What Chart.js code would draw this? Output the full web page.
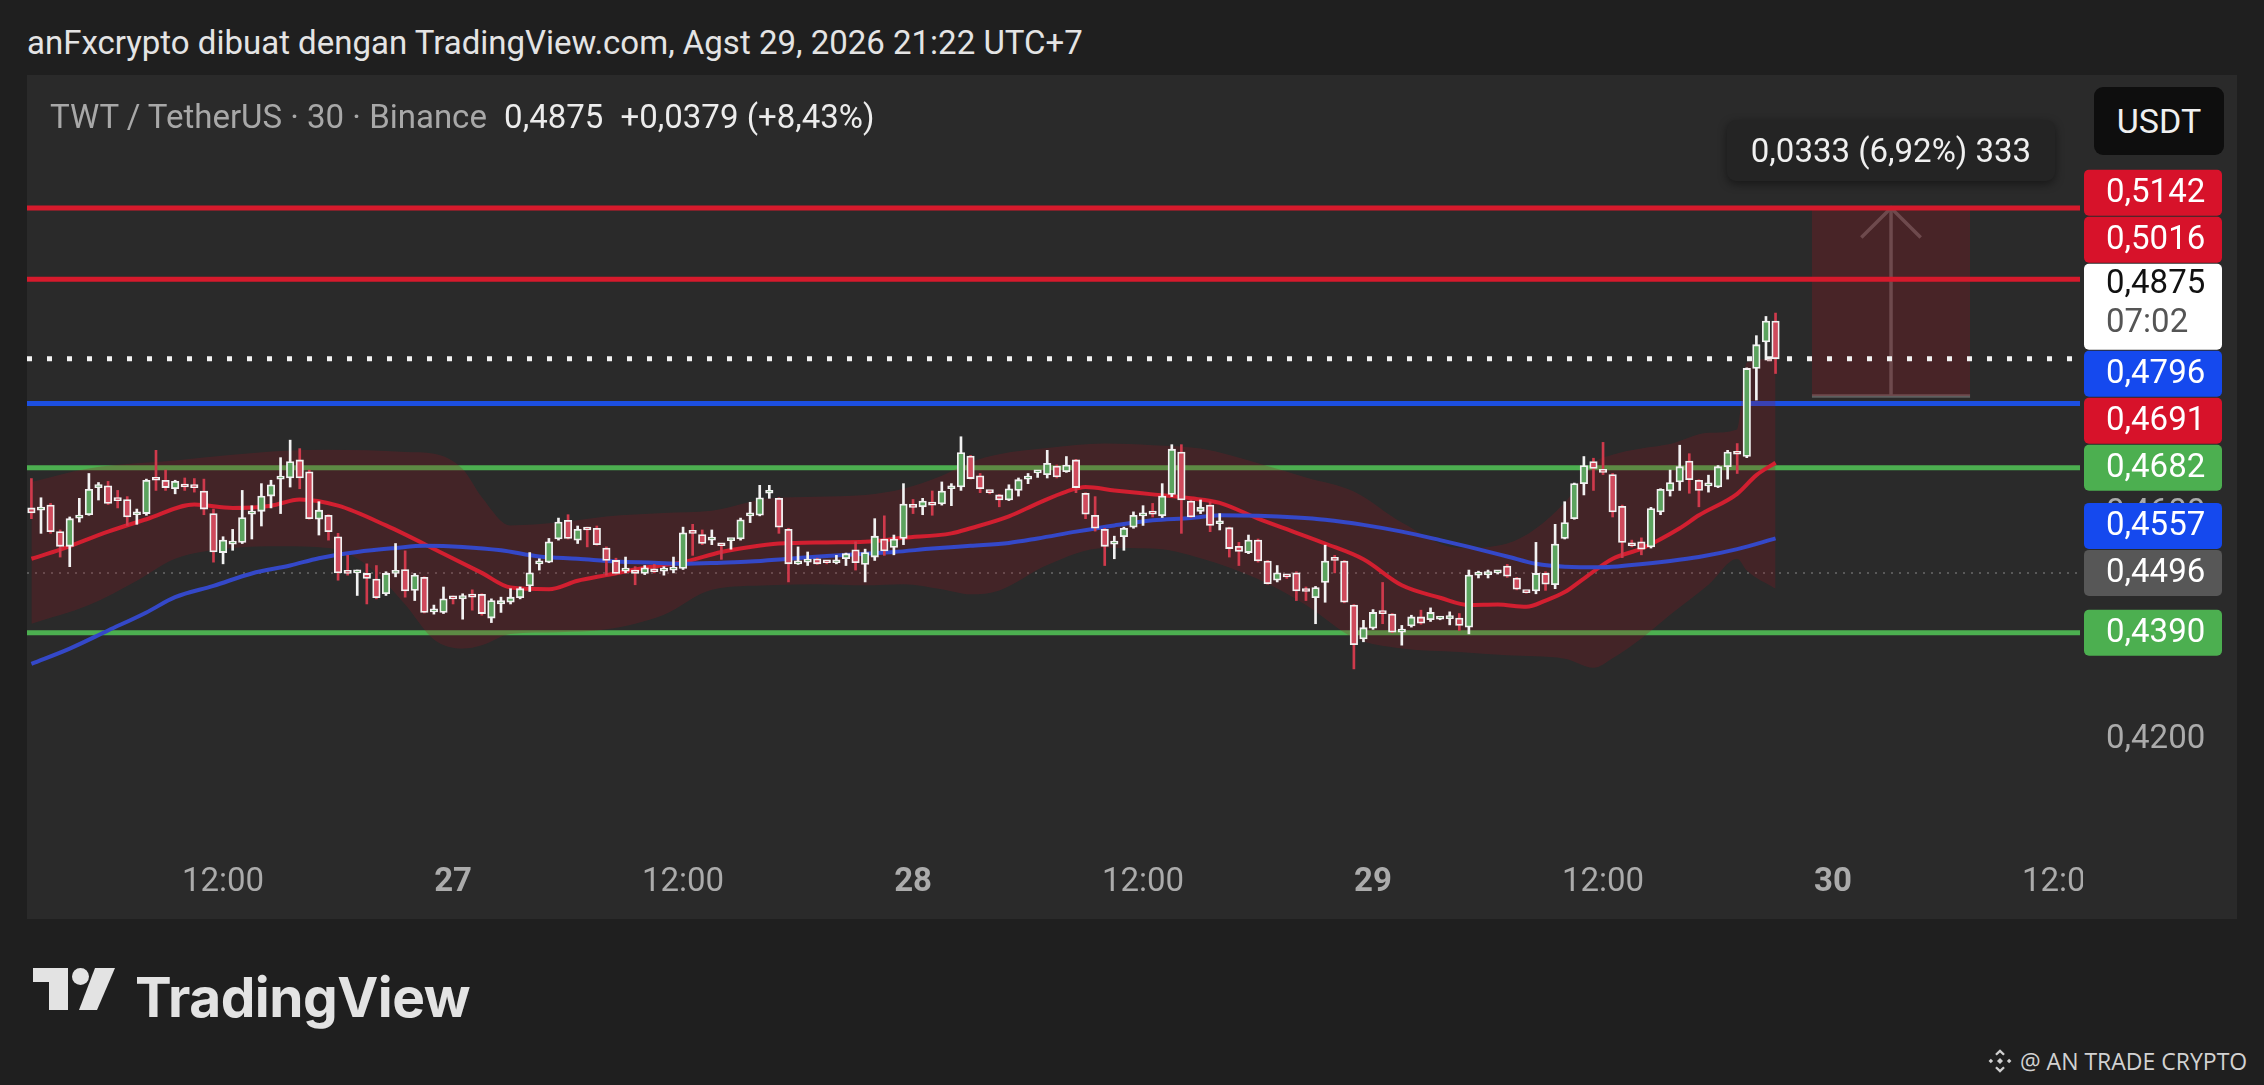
<!DOCTYPE html>
<html>
<head>
<meta charset="utf-8">
<script src="https://cdn.jsdelivr.net/npm/chart.js@4.4.1/dist/chart.umd.min.js"></script>
<style>
  html, body { margin:0; padding:0; background:#1f1f1f; width:2264px; height:1085px; overflow:hidden; font-family: Roboto, "Noto Sans", sans-serif; }
  #title { position:absolute; left:27px; top:24px; font-size:33px; line-height:38px; color:#e4e4e4; white-space:nowrap; }
  #panel { position:absolute; left:27px; top:75px; width:2210px; height:844px; background:#2a2a2a; }
  #chart { position:absolute; left:0; top:0; }
  #legend { position:absolute; left:23px; top:23px; font-size:33px; line-height:38px; color:#a8a8a8; white-space:nowrap; }
  #legend span { color:#ececec; margin-left:9px; }
  #usdt { position:absolute; left:2067px; top:12px; width:130px; height:68px; background:#0e0e0e; border-radius:9px; color:#f0f0f0; font-size:34px; line-height:68px; text-align:center; }
  #measure { position:absolute; left:1700px; top:45px; width:328px; height:61px; background:#242424; border-radius:9px; box-shadow:0 3px 10px rgba(0,0,0,0.45); color:#f0f0f0; font-size:33px; line-height:61px; text-align:center; }
  #logo { position:absolute; left:33px; top:968px; height:70px; display:flex; align-items:flex-start; }
  #logo .word { margin-left:20px; margin-top:-1px; font-family: Inter, Lato, sans-serif; font-weight:700; font-size:55px; line-height:60px; color:#e3e3e3; letter-spacing:-0.5px; }
  #mark { position:absolute; left:1986px; top:1045px; display:flex; align-items:center; color:#d2d2d2; font-family:"Open Sans", "Noto Sans", sans-serif; font-size:23px; white-space:nowrap; }
  #mark svg { margin-right:6px; }
</style>
</head>
<body>
<div id="title">anFxcrypto dibuat dengan TradingView.com, Agst 29, 2026 21:22 UTC+7</div>
<div id="panel">
  <canvas id="chart" width="2210" height="844"></canvas>
  <div id="legend">TWT / TetherUS · 30 · Binance <span>0,4875</span> <span>+0,0379 (+8,43%)</span></div>
  <div id="usdt">USDT</div>
  <div id="measure">0,0333 (6,92%) 333</div>
</div>
<div id="logo">
  <svg width="82" height="42" viewBox="0 0 82 42"><g fill="#e3e3e3">
    <path d="M0 0 H35 V42 H16 V14 H0 Z"/>
    <circle cx="47.5" cy="8.5" r="8.5"/>
    <path d="M62 0 H82 L64 42 H46 Z"/>
  </g></svg>
  <div class="word">TradingView</div>
</div>
<div id="mark">
  <svg width="28" height="28" viewBox="0 0 26 26"><g fill="#cfcfcf">
    <path d="M13 2 L17.5 6.5 L16 8 L13 5 L10 8 L8.5 6.5 Z"/>
    <path d="M13 24 L8.5 19.5 L10 18 L13 21 L16 18 L17.5 19.5 Z"/>
    <rect x="11" y="11" width="4" height="4" transform="rotate(45 13 13)"/>
    <rect x="3" y="11.5" width="3" height="3" transform="rotate(45 4.5 13)"/>
    <rect x="20" y="11.5" width="3" height="3" transform="rotate(45 21.5 13)"/>
  </g></svg>
  <span>@ AN TRADE CRYPTO</span>
</div>
<script>
////////////
//// Data (30 min bars, 26 Aug 02:00 -> 29 Aug 21:00)

let OPEN = [
0.4611,0.4607,0.4616,0.4569,0.4543,0.4593,0.4599,0.4647,0.4650,0.4625,0.4626,0.4599,0.4601,0.4663,0.4660,0.4645,0.4649,0.4648,0.4641,0.4601,
0.4532,0.4547,0.4550,0.4600,0.4605,0.4632,0.4662,0.4664,0.4696,0.4675,0.4591,0.4598,0.4560,0.4498,0.4496,0.4495,0.4485,0.4459,0.4495,0.4502,
0.4465,0.4488,0.4427,0.4426,0.4451,0.4450,0.4455,0.4458,0.4416,0.4441,0.4444,0.4452,0.4473,0.4512,0.4515,0.4556,0.4589,0.4554,0.4573,0.4575,
0.4540,0.4518,0.4499,0.4501,0.4495,0.4502,0.4499,0.4501,0.4504,0.4569,0.4564,0.4554,0.4546,0.4553,0.4556,0.4597,0.4598,0.4637,0.4628,0.4573,
0.4512,0.4515,0.4521,0.4515,0.4514,0.4521,0.4537,0.4511,0.4524,0.4556,0.4541,0.4557,0.4613,0.4613,0.4618,0.4618,0.4645,0.4648,0.4703,0.4668,
0.4640,0.4634,0.4625,0.4642,0.4662,0.4673,0.4670,0.4685,0.4675,0.4696,0.4637,0.4598,0.4573,0.4547,0.4560,0.4577,0.4597,0.4602,0.4597,0.4635,
0.4710,0.4623,0.4605,0.4616,0.4583,0.4576,0.4543,0.4532,0.4554,0.4517,0.4483,0.4490,0.4496,0.4465,0.4452,0.4479,0.4519,0.4517,0.4439,0.4379,
0.4398,0.4426,0.4423,0.4391,0.4402,0.4418,0.4413,0.4414,0.4415,0.4416,0.4400,0.4492,0.4493,0.4496,0.4508,0.4487,0.4463,0.4464,0.4495,0.4475,
0.4557,0.4592,0.4654,0.4693,0.4676,0.4670,0.4614,0.4546,0.4551,0.4542,0.4604,0.4641,0.4657,0.4694,0.4660,0.4650,0.4648,0.4684,0.4707,0.4702,
0.4858,0.4905,0.4942];
let HIGH = [
0.4663,0.4629,0.4619,0.4572,0.4595,0.4628,0.4672,0.4656,0.4658,0.4642,0.4631,0.4609,0.4662,0.4713,0.4678,0.4660,0.4664,0.4663,0.4662,0.4609,
0.4560,0.4573,0.4642,0.4615,0.4654,0.4660,0.4700,0.4731,0.4716,0.4678,0.4622,0.4599,0.4566,0.4527,0.4501,0.4512,0.4509,0.4498,0.4548,0.4535,
0.4495,0.4489,0.4439,0.4471,0.4455,0.4459,0.4466,0.4459,0.4450,0.4453,0.4468,0.4471,0.4532,0.4521,0.4557,0.4593,0.4599,0.4579,0.4577,0.4579,
0.4542,0.4522,0.4524,0.4507,0.4509,0.4511,0.4507,0.4524,0.4577,0.4582,0.4572,0.4572,0.4547,0.4556,0.4593,0.4621,0.4651,0.4651,0.4629,0.4575,
0.4542,0.4533,0.4522,0.4517,0.4527,0.4531,0.4551,0.4538,0.4592,0.4597,0.4563,0.4654,0.4626,0.4628,0.4641,0.4657,0.4654,0.4737,0.4704,0.4672,
0.4642,0.4635,0.4652,0.4664,0.4672,0.4675,0.4713,0.4687,0.4702,0.4697,0.4638,0.4631,0.4575,0.4561,0.4577,0.4604,0.4615,0.4619,0.4654,0.4723,
0.4723,0.4625,0.4625,0.4622,0.4601,0.4577,0.4550,0.4563,0.4556,0.4518,0.4509,0.4492,0.4498,0.4471,0.4472,0.4545,0.4527,0.4518,0.4440,0.4412,
0.4431,0.4479,0.4424,0.4403,0.4421,0.4430,0.4434,0.4417,0.4427,0.4424,0.4501,0.4499,0.4501,0.4499,0.4511,0.4488,0.4464,0.4550,0.4498,0.4582,
0.4622,0.4655,0.4702,0.4699,0.4727,0.4672,0.4616,0.4554,0.4558,0.4612,0.4645,0.4678,0.4722,0.4707,0.4661,0.4669,0.4686,0.4713,0.4725,0.4859,
0.4916,0.4950,0.4956];
let LOW = [
0.4592,0.4566,0.4566,0.4524,0.4507,0.4586,0.4598,0.4625,0.4617,0.4611,0.4580,0.4582,0.4598,0.4642,0.4642,0.4636,0.4642,0.4639,0.4599,0.4515,
0.4512,0.4536,0.4548,0.4556,0.4579,0.4611,0.4601,0.4648,0.4645,0.4591,0.4563,0.4554,0.4483,0.4492,0.4456,0.4441,0.4450,0.4456,0.4489,0.4453,
0.4447,0.4425,0.4423,0.4424,0.4441,0.4414,0.4430,0.4421,0.4408,0.4426,0.4441,0.4450,0.4463,0.4501,0.4514,0.4554,0.4556,0.4548,0.4542,0.4545,
0.4492,0.4493,0.4496,0.4475,0.4493,0.4496,0.4492,0.4496,0.4502,0.4527,0.4546,0.4546,0.4520,0.4538,0.4554,0.4585,0.4597,0.4628,0.4566,0.4480,
0.4511,0.4509,0.4511,0.4512,0.4512,0.4509,0.4501,0.4480,0.4518,0.4527,0.4528,0.4546,0.4601,0.4599,0.4598,0.4616,0.4615,0.4642,0.4662,0.4638,
0.4636,0.4613,0.4624,0.4632,0.4654,0.4665,0.4664,0.4664,0.4674,0.4638,0.4592,0.4570,0.4509,0.4521,0.4536,0.4575,0.4580,0.4595,0.4594,0.4631,
0.4566,0.4594,0.4601,0.4569,0.4572,0.4524,0.4509,0.4530,0.4515,0.4476,0.4480,0.4486,0.4447,0.4447,0.4406,0.4444,0.4496,0.4443,0.4326,0.4374,
0.4396,0.4406,0.4390,0.4368,0.4400,0.4405,0.4410,0.4413,0.4404,0.4394,0.4388,0.4487,0.4487,0.4494,0.4488,0.4466,0.4460,0.4459,0.4465,0.4468,
0.4556,0.4591,0.4634,0.4642,0.4670,0.4595,0.4523,0.4542,0.4528,0.4540,0.4599,0.4632,0.4642,0.4637,0.4613,0.4639,0.4647,0.4662,0.4672,0.4700,
0.4802,0.4873,0.4849];
let CLOSE = [
0.4602,0.4611,0.4569,0.4543,0.4592,0.4595,0.4644,0.4649,0.4619,0.4624,0.4595,0.4600,0.4660,0.4660,0.4647,0.4658,0.4648,0.4647,0.4609,0.4533,
0.4554,0.4552,0.4594,0.4602,0.4632,0.4652,0.4664,0.4693,0.4664,0.4592,0.4607,0.4569,0.4496,0.4495,0.4498,0.4486,0.4452,0.4495,0.4499,0.4464,
0.4492,0.4426,0.4428,0.4450,0.4450,0.4456,0.4453,0.4424,0.4447,0.4447,0.4453,0.4468,0.4496,0.4515,0.4551,0.4586,0.4557,0.4573,0.4572,0.4546,
0.4518,0.4495,0.4501,0.4495,0.4505,0.4498,0.4501,0.4502,0.4567,0.4566,0.4548,0.4556,0.4544,0.4554,0.4590,0.4599,0.4629,0.4639,0.4577,0.4512,
0.4517,0.4516,0.4512,0.4514,0.4519,0.4530,0.4514,0.4532,0.4561,0.4535,0.4556,0.4618,0.4612,0.4623,0.4616,0.4641,0.4648,0.4709,0.4663,0.4645,
0.4638,0.4625,0.4645,0.4661,0.4664,0.4674,0.4690,0.4666,0.4687,0.4647,0.4600,0.4575,0.4543,0.4549,0.4575,0.4598,0.4600,0.4600,0.4632,0.4715,
0.4625,0.4595,0.4612,0.4580,0.4584,0.4539,0.4534,0.4554,0.4517,0.4477,0.4496,0.4489,0.4464,0.4463,0.4470,0.4517,0.4518,0.4444,0.4369,0.4399,
0.4426,0.4424,0.4391,0.4394,0.4418,0.4407,0.4426,0.4415,0.4417,0.4403,0.4492,0.4494,0.4495,0.4497,0.4490,0.4467,0.4461,0.4495,0.4476,0.4547,
0.4585,0.4654,0.4686,0.4681,0.4674,0.4604,0.4550,0.4544,0.4538,0.4610,0.4644,0.4656,0.4684,0.4661,0.4642,0.4653,0.4684,0.4710,0.4706,0.4858,
0.4900,0.4942,0.4875];

// red average at these bar numbers
let RED_X = [0,3,8,12,17,21,25,28,32,37,43,47,50,54,57,60,64,68,72,75,78,83,87,91,96,98,102,105,108,110,113,117,121,124,128,132,135,139,143,147,150,153,156,158,160,162,165,168,172,174,178,180,182];
let RED_Y = [0.4521,0.4537,0.4569,0.4591,0.4617,0.4611,0.4615,0.4626,0.4615,0.4580,0.4530,0.4496,0.4470,0.4467,0.4482,0.4492,0.4505,0.4515,0.4533,0.4542,0.4548,0.4550,0.4551,0.4558,0.4566,0.4575,0.4596,0.4619,0.4640,0.4648,0.4642,0.4635,0.4628,0.4620,0.4592,0.4567,0.4548,0.4520,0.4474,0.4452,0.4439,0.4440,0.4436,0.4447,0.4462,0.4486,0.4521,0.4539,0.4575,0.4598,0.4636,0.4669,0.4691];
// blue average
let BLUE_X = [0,4,8,12,15,19,23,27,30,34,38,41,45,49,53,57,61,65,68,72,75,79,83,87,90,94,98,102,105,109,113,117,121,124,128,132,135,139,143,147,150,154,157,160,164,167,171,174,178,182];
let BLUE_Y = [0.4335,0.4362,0.4394,0.4426,0.4453,0.4473,0.4495,0.4509,0.4522,0.4533,0.4540,0.4544,0.4542,0.4536,0.4525,0.4521,0.4516,0.4514,0.4512,0.4514,0.4516,0.4521,0.4526,0.4530,0.4533,0.4539,0.4544,0.4549,0.4557,0.4569,0.4580,0.4589,0.4593,0.4598,0.4597,0.4594,0.4590,0.4581,0.4569,0.4554,0.4542,0.4525,0.4512,0.4507,0.4506,0.4510,0.4517,0.4524,0.4538,0.4557];
// shaded band, upper and lower edge
let BAND_X = [0,6,11,15,21,26,31,35,39,42,45,47,50,55,60,66,71,77,82,87,91,95,98,101,106,112,117,122,128,133,138,143,149,154,160,163,165,168,171,175,178,179,182];
let BAND_UP = [0.4657,0.4681,0.4690,0.4695,0.4705,0.4712,0.4714,0.4713,0.4710,0.4707,0.4680,0.4630,0.4580,0.4585,0.4596,0.4602,0.4606,0.4628,0.4631,0.4634,0.4645,0.4668,0.4692,0.4706,0.4717,0.4725,0.4722,0.4716,0.4690,0.4665,0.4640,0.4585,0.4540,0.4548,0.4620,0.4690,0.4705,0.4716,0.4724,0.4744,0.4750,0.4868,0.4875];
let BAND_LOW = [0.4406,0.4439,0.4482,0.4521,0.4540,0.4543,0.4540,0.4510,0.4440,0.4378,0.4362,0.4368,0.4388,0.4391,0.4396,0.4422,0.4466,0.4474,0.4476,0.4474,0.4476,0.4467,0.4458,0.4465,0.4510,0.4540,0.4539,0.4522,0.4485,0.4439,0.4381,0.4362,0.4356,0.4350,0.4344,0.4328,0.4345,0.4380,0.4422,0.4475,0.4521,0.4500,0.4468];

// drawn levels
let LEVEL_RED = [0.5142, 0.5016];
let LEVEL_BLUE = [0.4796];
let LEVEL_GREEN = [0.4682, 0.4390];
let LAST_PRICE = 0.4875;
let PREV_CLOSE = 0.4496;

// price range tool
let MEASURE_X = [185.8, 202.3];
let MEASURE_Y = [0.4809, 0.5142];

// price scale tags
let TAG_PRICES = [0.5142, 0.5016, 0.4875, 0.4796, 0.4691, 0.4682, 0.4557, 0.4496, 0.4390];
let TAG_TEXT   = ['0,5142','0,5016','0,4875','0,4796','0,4691','0,4682','0,4557','0,4496','0,4390'];
let TAG_SUB    = ['', '', '07:02', '', '', '', '', '', ''];
let TAG_BG     = ['#d7122a','#d7122a','#ffffff','#1549ee','#d7122a','#4caf50','#1549ee','#575757','#4caf50'];
let TAG_FG     = ['#ffffff','#ffffff','#111111','#ffffff','#ffffff','#ffffff','#ffffff','#ffffff','#ffffff'];

// scale labels left uncovered by the tags
let Y_TICKS = [0.42, 0.44, 0.46, 0.50];
let TICK_POS = [20, 44, 68, 92, 116, 140, 164, 188, 212];
let TICK_LABELS = ['12:00','27','12:00','28','12:00','29','12:00','30','12:00'];

let X_MIN = -0.46, X_MAX = 213.77;
let Y_MIN = 0.40089, Y_MAX = 0.53775;

let GREEN = '#5ba35e';
let RED = '#cf4a5c';
let PANEL = '#2a2a2a';

////////////
//// Datasets

Chart.defaults.font.family = 'Roboto';

function hline(p, color, width, dash, order) {
	return {
		type: 'line',
		data: [{x: X_MIN, y: p}, {x: X_MAX, y: p}],
		borderColor: color,
		borderWidth: width,
		borderDash: dash,
		pointRadius: 0,
		order: order
	};
}

function pts(xs, ys) {
	return xs.map((x, k) => ({x: x, y: ys[k]}));
}

let isUp = OPEN.map((o, i) => CLOSE[i] >= o);

let datasets = [];

// price range rectangle (fill to next dataset)
datasets.push({
	type: 'line',
	data: [{x: MEASURE_X[0], y: MEASURE_Y[1]}, {x: MEASURE_X[1], y: MEASURE_Y[1]}],
	borderColor: '#5e5e5e', borderWidth: 3.5, pointRadius: 0,
	fill: '+1', backgroundColor: 'rgba(160,20,30,0.26)', order: 12
});
datasets.push({
	type: 'line',
	data: [{x: MEASURE_X[0], y: MEASURE_Y[0]}, {x: MEASURE_X[1], y: MEASURE_Y[0]}],
	borderColor: '#5e5e5e', borderWidth: 3.5, pointRadius: 0, order: 12
});
let midX = (MEASURE_X[0] + MEASURE_X[1]) / 2;
datasets.push({
	type: 'line',
	data: [{x: midX, y: MEASURE_Y[0]}, {x: midX, y: MEASURE_Y[1]}],
	borderColor: '#5e5e5e', borderWidth: 3.5, pointRadius: 0, order: 12
});
datasets.push({
	type: 'line',
	data: [{x: midX - 3.1, y: MEASURE_Y[1] - 0.0052}, {x: midX, y: MEASURE_Y[1]}, {x: midX + 3.1, y: MEASURE_Y[1] - 0.0052}],
	borderColor: '#5e5e5e', borderWidth: 3.5, pointRadius: 0, order: 12
});

// horizontal levels
LEVEL_RED.forEach(p => datasets.push(hline(p, '#d61a2c', 5, [], 10)));
LEVEL_BLUE.forEach(p => datasets.push(hline(p, '#1c4fe0', 5, [], 10)));
LEVEL_GREEN.forEach(p => datasets.push(hline(p, '#4caf50', 5, [], 10)));
datasets.push(hline(PREV_CLOSE, '#6a6a6a', 1.5, [2, 6], 10));
datasets.push(hline(LAST_PRICE, '#f2f2f2', 5, [5, 15], 10));

// band
datasets.push({
	type: 'line', data: pts(BAND_X, BAND_UP),
	borderWidth: 0, pointRadius: 0, cubicInterpolationMode: 'monotone',
	fill: '+1', backgroundColor: 'rgba(150,22,32,0.24)', order: 8
});
datasets.push({
	type: 'line', data: pts(BAND_X, BAND_LOW),
	borderWidth: 0, pointRadius: 0, cubicInterpolationMode: 'monotone', order: 8
});

// averages
datasets.push({
	type: 'line', data: pts(BLUE_X, BLUE_Y),
	borderColor: '#3448c8', borderWidth: 4, pointRadius: 0, cubicInterpolationMode: 'monotone', order: 5
});
datasets.push({
	type: 'line', data: pts(RED_X, RED_Y),
	borderColor: '#d21f30', borderWidth: 4, pointRadius: 0, cubicInterpolationMode: 'monotone', order: 5
});

// candles: wicks then bodies
datasets.push({
	type: 'bar',
	data: HIGH.map((h, i) => ({x: i, y: [LOW[i], h]})),
	backgroundColor: isUp.map(u => u ? '#f2f2f2' : '#cf3a4c'),
	borderWidth: 0, barThickness: 2, grouped: false, order: 2
});
datasets.push({
	type: 'bar',
	data: OPEN.map((o, i) => ({x: i, y: [o, CLOSE[i]]})),
	backgroundColor: isUp.map(u => u ? GREEN : RED),
	borderColor: '#f2f2f2', borderWidth: 1.8, borderSkipped: false,
	barThickness: 7.5, minBarLength: 3, grouped: false, order: 1
});

////////////
//// Price tags on the right scale

let priceTags = {
	id: 'priceTags',
	afterDraw(chart) {
		let ctx = chart.ctx;
		let area = chart.chartArea;
		let ys = chart.scales.y;

		// hide the time label that runs under the price scale
		ctx.fillStyle = PANEL;
		ctx.fillRect(area.right + 3, area.bottom, chart.width - area.right, chart.height - area.bottom);

		let left = area.right + 4;
		let w = 138;
		let order = TAG_PRICES.map((p, k) => k).sort((a, b) => TAG_PRICES[a] - TAG_PRICES[b]);
		let limit = Infinity;
		ctx.save();
		ctx.font = '33px Roboto';
		ctx.textBaseline = 'middle';
		ctx.textAlign = 'left';
		order.forEach(k => {
			let h = TAG_SUB[k] ? 86 : 46;
			let top = ys.getPixelForValue(TAG_PRICES[k]) - h / 2;
			if (top + h > limit) top = limit - h;
			limit = top - 1;
			ctx.fillStyle = TAG_BG[k];
			ctx.beginPath();
			ctx.roundRect(left, top, w, h, 5);
			ctx.fill();
			ctx.fillStyle = TAG_FG[k];
			if (TAG_SUB[k]) {
				ctx.fillText(TAG_TEXT[k], left + 22, top + 21);
				ctx.fillStyle = '#555555';
				ctx.fillText(TAG_SUB[k], left + 22, top + 60);
			} else {
				ctx.fillText(TAG_TEXT[k], left + 22, top + h / 2 + 1);
			}
		});
		ctx.restore();
	}
};

function noPad(s) {
	s.paddingTop = 0;
	s.paddingBottom = 0;
	s.paddingLeft = 0;
	s.paddingRight = 0;
}

////////////
//// Chart

let ctx = document.getElementById('chart').getContext('2d');
let currentChart = new Chart(ctx, {
	type: 'line',
	data: {datasets: datasets},
	plugins: [priceTags],
	options: {
		responsive: false,
		devicePixelRatio: 1,
		animation: false,
		events: [],
		layout: {padding: 0},
		plugins: {legend: {display: false}, tooltip: {enabled: false}},
		scales: {
			x: {
				type: 'linear', min: X_MIN, max: X_MAX, offset: false,
				grid: {display: false, drawTicks: false}, border: {display: false},
				afterBuildTicks: s => { s.ticks = TICK_POS.map(v => ({value: v})); },
				afterFit: s => { s.height = 71; noPad(s); },
				ticks: {
					autoSkip: false, maxRotation: 0, padding: 15, color: '#ababab',
					callback: (v, i) => TICK_LABELS[i],
					font: c => ({size: 33, weight: /:/.test(TICK_LABELS[c.index] || ':') ? 'normal' : 'bold'})
				}
			},
			y: {
				type: 'linear', position: 'right', min: Y_MIN, max: Y_MAX,
				grid: {display: false, drawTicks: false}, border: {display: false},
				afterBuildTicks: s => { s.ticks = Y_TICKS.map(v => ({value: v})); },
				afterFit: s => { s.width = 157; noPad(s); },
				ticks: {
					padding: 26, color: '#ababab', font: {size: 33},
					callback: v => v.toFixed(4).replace('.', ',')
				}
			}
		}
	}
});
</script>
</body>
</html>
